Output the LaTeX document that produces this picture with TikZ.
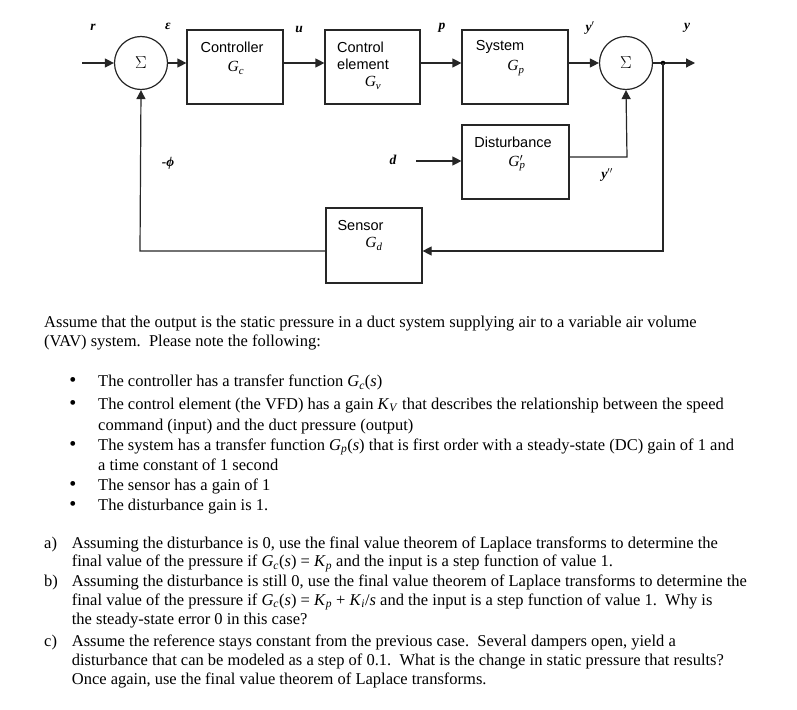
\documentclass[tikz,border=0pt]{standalone}
\usepackage{fontspec}
\setmainfont{Liberation Serif}
\newfontfamily\dsans{Liberation Sans}
\usetikzlibrary{arrows.meta}
\newcommand\gsub[2]{\textit{#1}\textsubscript{\textit{#2}}}
\begin{document}
\begin{tikzpicture}[x=1pt,y=-1pt,
  ln/.style={line width=1.2pt,draw=black!85},
  arr/.style={ln,-{Triangle[length=9pt,width=9pt]}},
  blk/.style={ln,rectangle,inner sep=0pt},
  sumc/.style={ln,circle,minimum size=53pt,inner sep=0pt,font=\fontsize{16}{16}\selectfont},
  boxtxt/.style={font=\dsans\fontsize{14.5}{16}\selectfont,inner sep=0pt},
  gtxt/.style={font=\fontsize{15.5}{15}\selectfont\itshape,inner sep=0pt},
  lbl/.style={font=\fontsize{13.5}{13}\selectfont\bfseries\itshape,inner sep=0pt},
  body/.style={anchor=base west,inner sep=0pt,font=\fontsize{16.5}{19}\selectfont},
  bul/.style={anchor=base,inner sep=0pt,font=\fontsize{20}{19}\selectfont}]
\useasboundingbox (0,0) rectangle (797,709);
% blocks
\node[sumc] (s1) at (141,63) {$\Sigma$};
\node[sumc] (s2) at (626,63) {$\Sigma$};
\node[blk,minimum width=96pt,minimum height=74pt] (ctrl) at (235,67) {};
\node[blk,minimum width=95pt,minimum height=74pt] (ce) at (372.5,67) {};
\node[blk,minimum width=106pt,minimum height=74pt] (sys) at (515,67) {};
\node[blk,minimum width=107pt,minimum height=74pt] (dist) at (515.5,162) {};
\node[blk,minimum width=96pt,minimum height=75pt] (sens) at (374,245.5) {};
% block texts
\node[boxtxt] (tctrl) at (232,47) {Controller};
\node[gtxt] (gc) at (236,68) {\gsub{G}{c}};
\node[boxtxt,anchor=west] (tce1) at (337,47) {Control};
\node[boxtxt,anchor=west] (tce2) at (337,64) {element};
\node[gtxt] (gv) at (373,83) {\gsub{G}{v}};
\node[boxtxt] (tsys) at (500,47) {System};
\node[gtxt] (gp) at (516,68) {\gsub{G}{p}};
\node[boxtxt] (tdist) at (513,142) {Disturbance};
\node[gtxt] (gpp) at (517,163) {\textit{G}\rlap{$^{\prime}$}\textsubscript{\textit{p}}};
\node[boxtxt] (tsens) at (360.5,226) {Sensor};
\node[gtxt] (gd) at (374,244) {\gsub{G}{d}};
% signal labels
\node[lbl] (lr) at (93,27) {r};
\node[lbl] (le) at (168,26) {ε};
\node[lbl] (lu) at (299,29) {u};
\node[lbl] (lp) at (442,28) {p};
\node[lbl] (lyp) at (590,28) {y$'$};
\node[lbl] (ly) at (687,28) {y};
\node[lbl] (ld) at (393,160) {d};
\node[lbl] (lypp) at (607,175) {y$''$};
\node[lbl] (lphi) at (168,163) {-ϕ};
% coordinates
\coordinate (in) at (82,63);
\coordinate (dot) at (663,63);
\coordinate (out) at (695,63);
\coordinate (dr) at (663,251);
\coordinate (bl) at (140,251);
\coordinate (din) at (416,161);
\coordinate (dout) at (627,157);
% connectors
\draw[arr] (in) -- (s1.west);
\draw[arr] (s1.east) -- (s1.east -| ctrl.west);
\draw[arr] (ctrl.east |- s1) -- (ce.west |- s1);
\draw[arr] (ce.east |- s1) -- (sys.west |- s1);
\draw[arr] (sys.east |- s2) -- (s2.west);
\draw[arr] (s2.east) -- (out);
\fill (dot) circle (2.3pt);
\draw[arr] (dot) -- (dr) -- (sens.east |- dr);
\draw[arr] (sens.west |- dr) -- (bl) -- (s1.south);
\draw[arr] (din) -- (dist.west |- din);
\draw[arr] (dist.east |- dout) -- (dout) -- (s2.south);
% body text
\node[body] (p1) at (44,327.7) {Assume that the output is the static pressure in a duct system supplying air to a variable air volume};
\node[body] (p2) at (44,346.7) {(VAV) system.\ \ Please note the following:};
\node[bul] (b1) at (73,386.7) {\textbullet};
\node[body] (t1) at (98,386.7) {The controller has a transfer function \gsub{G}{c}(\textit{s})};
\node[bul] (b2) at (73,409) {\textbullet};
\node[body] (t2) at (98,409) {The control element (the VFD) has a gain \gsub{K}{V} that describes the relationship between the speed};
\node[body] (t2b) at (98,430) {command (input) and the duct pressure (output)};
\node[bul] (b3) at (73,450) {\textbullet};
\node[body] (t3) at (98,450) {The system has a transfer function \gsub{G}{p}(\textit{s}) that is first order with a steady-state (DC) gain of 1 and};
\node[body] (t3b) at (98,470.7) {a time constant of 1 second};
\node[bul] (b4) at (73,490.7) {\textbullet};
\node[body] (t4) at (98,490.7) {The sensor has a gain of 1};
\node[bul] (b5) at (73,510) {\textbullet};
\node[body] (t5) at (98,510) {The disturbance gain is 1.};
\node[body] (qa) at (44,548.3) {a)};
\node[body] (qa1) at (71.7,548.3) {Assuming the disturbance is 0, use the final value theorem of Laplace transforms to determine the};
\node[body] (qa2) at (71.7,566.7) {final value of the pressure if \gsub{G}{c}(\textit{s}) = \gsub{K}{p} and the input is a step function of value 1.};
\node[body] (qb) at (44,586) {b)};
\node[body] (qb1) at (71.7,586) {Assuming the disturbance is still 0, use the final value theorem of Laplace transforms to determine the};
\node[body] (qb2) at (71.7,605) {final value of the pressure if \gsub{G}{c}(\textit{s}) = \gsub{K}{p} + \gsub{K}{i}/\textit{s} and the input is a step function of value 1.\ \ Why is};
\node[body] (qb3) at (71.7,624) {the steady-state error 0 in this case?};
\node[body] (qc) at (44,646) {c)};
\node[body] (qc1) at (71.7,646) {Assume the reference stays constant from the previous case.\ \ Several dampers open, yield a};
\node[body] (qc2) at (71.7,665) {disturbance that can be modeled as a step of 0.1.\ \ What is the change in static pressure that results?};
\node[body] (qc3) at (71.7,684) {Once again, use the final value theorem of Laplace transforms.};
\end{tikzpicture}
\end{document}
